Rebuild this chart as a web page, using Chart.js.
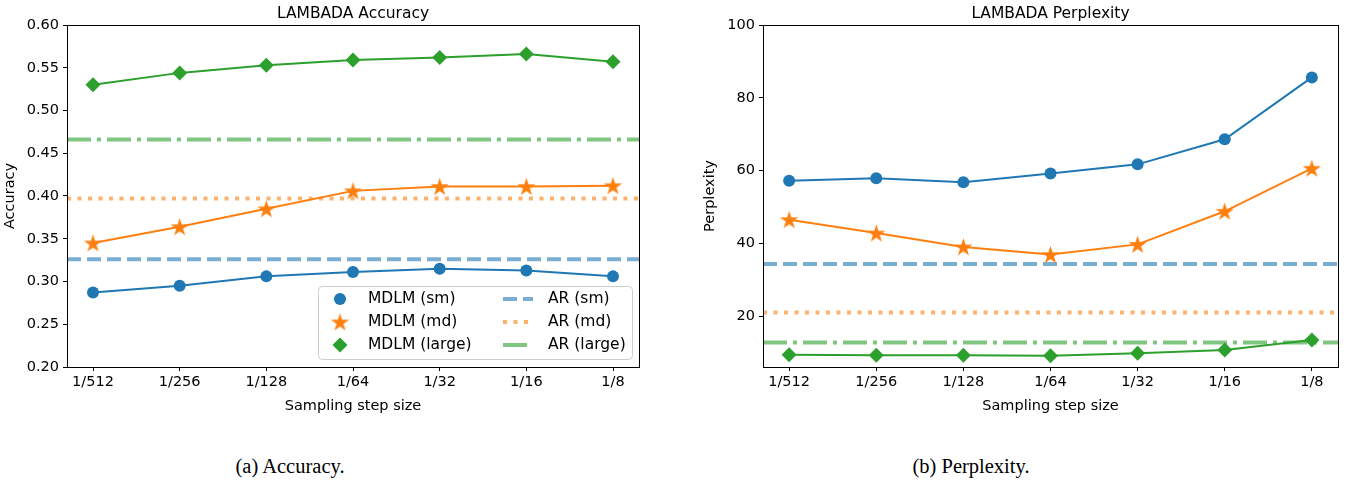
<!DOCTYPE html>
<html>
<head>
<meta charset="utf-8">
<script src="https://cdn.jsdelivr.net/npm/chart.js@4.4.0/dist/chart.umd.min.js"></script>
<style>
  body { margin: 0; background: #fff; width: 1346px; height: 486px; position: relative; overflow: hidden; }
  .box { position: absolute; top: 0; height: 430px; }
  .caption { position: absolute; top: 455px; width: 240px; text-align: center;
    font-family: "Liberation Serif", "DejaVu Serif", serif; font-size: 20.5px; color: #000; }
</style>
</head>
<body>
<div class="box" style="left:0;width:680px"><canvas id="acc"></canvas></div>
<div class="box" style="left:680px;width:666px"><canvas id="ppl"></canvas></div>
<div class="caption" style="left:170px">(a) Accuracy.</div>
<div class="caption" style="left:851px">(b) Perplexity.</div>
<script>
// data
let stepLabels = ["1/512", "1/256", "1/128", "1/64", "1/32", "1/16", "1/8"];
let accSm = [0.287, 0.295, 0.306, 0.311, 0.315, 0.313, 0.306];
let accMd = [0.345, 0.364, 0.385, 0.406, 0.411, 0.411, 0.412];
let accLarge = [0.530, 0.544, 0.553, 0.559, 0.562, 0.566, 0.557];
let arAcc = [0.326, 0.397, 0.466]; // sm, md, large
let pplSm = [57.2, 57.9, 56.8, 59.2, 61.7, 68.6, 85.6];
let pplMd = [46.5, 42.8, 39.0, 36.9, 39.7, 48.8, 60.6];
let pplLarge = [9.4, 9.2, 9.2, 9.1, 9.8, 10.7, 13.4];
let arPpl = [34.3, 21.0, 12.7];
let accTicks = [0.20, 0.25, 0.30, 0.35, 0.40, 0.45, 0.50, 0.55, 0.60];
let pplTicks = [20, 40, 60, 80, 100];
let xMin = -0.3, xMax = 6.3;

let blue = "#1f77b4", orange = "#ff7f0e", green = "#2ca02c";
let blueA = "rgba(31,119,180,0.6)", orangeA = "rgba(255,127,14,0.6)", greenA = "rgba(44,160,44,0.6)";

Chart.defaults.font.family = "'DejaVu Sans', sans-serif";
Chart.defaults.font.size = 14.5;
Chart.defaults.color = "#000";

// filled 5 point star marker
function makeStar(r, color) {
  let c = document.createElement("canvas");
  c.width = r * 2 + 2;
  c.height = r * 2 + 2;
  let ctx = c.getContext("2d");
  ctx.fillStyle = color;
  ctx.beginPath();
  for (let i = 0; i < 10; i++) {
    let rad = i % 2 === 0 ? r : r * 0.382;
    let a = -Math.PI / 2 + i * Math.PI / 5;
    let px = c.width / 2 + rad * Math.cos(a);
    let py = c.height / 2 + rad * Math.sin(a) + 0.8;
    if (i === 0) ctx.moveTo(px, py); else ctx.lineTo(px, py);
  }
  ctx.closePath();
  ctx.fill();
  return c;
}
let starImg = makeStar(9.5, orange);

function series(label, values, color, style, radius) {
  return {
    label: label,
    data: values.map((v, i) => ({ x: i, y: v })),
    borderColor: color,
    backgroundColor: color,
    borderWidth: 2,
    pointStyle: style,
    pointRadius: radius,
    pointHoverRadius: radius,
    pointBorderWidth: 0,
    tension: 0,
    order: 1
  };
}

function hline(label, value, color, dash) {
  return {
    label: label,
    data: [{ x: xMin, y: value }, { x: xMax, y: value }],
    borderColor: color,
    backgroundColor: color,
    borderWidth: 4,
    borderDash: dash,
    borderCapStyle: "butt",
    pointRadius: 0,
    order: 2
  };
}

let dashed = [14, 6], dotted = [4, 6.5], dashDot = [24, 6, 4, 6];

// title + full frame, like matplotlib axes
let framePlugin = {
  id: "frame",
  afterDraw(chart) {
    let a = chart.chartArea, ctx = chart.ctx;
    ctx.save();
    ctx.strokeStyle = "#000";
    ctx.lineWidth = 1;
    ctx.strokeRect(Math.round(a.left) + 0.5, Math.round(a.top) + 0.5, Math.round(a.right - a.left), Math.round(a.bottom - a.top));
    ctx.fillStyle = "#000";
    ctx.font = "15.5px 'DejaVu Sans'";
    ctx.textAlign = "center";
    ctx.fillText(chart.options.plugins.frame.text, (a.left + a.right) / 2, a.top - 7);
    ctx.restore();
  }
};

function drawMarker(ctx, ds, x, y) {
  if (ds.pointStyle instanceof HTMLCanvasElement) {
    ctx.drawImage(ds.pointStyle, x - ds.pointStyle.width / 2, y - ds.pointStyle.height / 2);
    return;
  }
  ctx.fillStyle = ds.backgroundColor;
  ctx.beginPath();
  if (ds.pointStyle === "rectRot") {
    let r = ds.pointRadius;
    ctx.moveTo(x, y - r); ctx.lineTo(x + r, y); ctx.lineTo(x, y + r); ctx.lineTo(x - r, y);
  } else {
    ctx.arc(x, y, ds.pointRadius, 0, Math.PI * 2);
  }
  ctx.closePath();
  ctx.fill();
}

// two column legend in the lower right corner
let legendPlugin = {
  id: "boxLegend",
  afterDraw(chart) {
    if (!chart.options.plugins.boxLegend.show) return;
    let a = chart.chartArea, ctx = chart.ctx;
    let w = 314, h = 73;
    let left = a.right - 7 - w, top = a.bottom - 8 - h;
    ctx.save();
    ctx.fillStyle = "rgba(255,255,255,0.8)";
    ctx.strokeStyle = "#cccccc";
    ctx.lineWidth = 1;
    ctx.beginPath();
    ctx.roundRect(left + 0.5, top + 0.5, w, h, 4);
    ctx.fill();
    ctx.stroke();
    ctx.font = "15.5px 'DejaVu Sans'";
    ctx.textBaseline = "middle";
    ctx.textAlign = "left";
    let ds = chart.data.datasets;
    for (let i = 0; i < 6; i++) {
      let col = Math.floor(i / 3), row = i % 3;
      let cy = top + 13 + row * 23;
      let d = ds[i];
      if (col === 0) {
        drawMarker(ctx, d, left + 22, cy);
        ctx.fillStyle = "#000";
        ctx.fillText(d.label, left + 50, cy);
      } else {
        ctx.strokeStyle = d.borderColor;
        ctx.lineWidth = 4;
        ctx.setLineDash(d.borderDash);
        ctx.beginPath();
        ctx.moveTo(left + 185, cy);
        ctx.lineTo(left + 215, cy);
        ctx.stroke();
        ctx.setLineDash([]);
        ctx.fillStyle = "#000";
        ctx.fillText(d.label, left + 230, cy);
      }
    }
    ctx.restore();
  }
};

function makeChart(id, title, yTitle, sm, md, large, ar, yMin, yMax, yTicks, digits, pad, showLegend) {
  let ctx = document.getElementById(id).getContext("2d");
  return new Chart(ctx, {
    type: "line",
    data: {
      datasets: [
        series("MDLM (sm)", sm, blue, "circle", 6),
        series("MDLM (md)", md, orange, starImg, 8),
        series("MDLM (large)", large, green, "rectRot", 7.5),
        hline("AR (sm)", ar[0], blueA, dashed),
        hline("AR (md)", ar[1], orangeA, dotted),
        hline("AR (large)", ar[2], greenA, dashDot)
      ]
    },
    options: {
      responsive: false,
      animation: false,
      layout: { padding: { top: 25, left: pad.left, right: pad.right, bottom: 11 } },
      plugins: {
        legend: { display: false },
        tooltip: { enabled: false },
        frame: { text: title },
        boxLegend: { show: showLegend }
      },
      scales: {
        x: {
          type: "linear",
          min: xMin,
          max: xMax,
          afterBuildTicks: (s) => { s.ticks = stepLabels.map((l, i) => ({ value: i })); },
          afterFit: (s) => { s.height = 52; },
          ticks: { callback: (v) => stepLabels[v], padding: 3, maxRotation: 0 },
          grid: { drawOnChartArea: false, drawTicks: true, tickLength: 4, color: "#000" },
          border: { display: false },
          title: { display: true, text: "Sampling step size", padding: { top: 1, bottom: 4 } }
        },
        y: {
          type: "linear",
          min: yMin,
          max: yMax,
          afterBuildTicks: (s) => { s.ticks = yTicks.map((v) => ({ value: v })); },
          afterFit: (s) => { s.width = pad.yWidth; },
          ticks: { callback: (v) => v.toFixed(digits), padding: 4 },
          grid: { drawOnChartArea: false, drawTicks: true, tickLength: 4, color: "#000" },
          border: { display: false },
          title: { display: true, text: yTitle, padding: { top: 0, bottom: 0 } }
        }
      }
    },
    plugins: [framePlugin, legendPlugin]
  });
}

let accCanvas = document.getElementById("acc");
accCanvas.width = 680; accCanvas.height = 430;
let pplCanvas = document.getElementById("ppl");
pplCanvas.width = 666; pplCanvas.height = 430;

makeChart("acc", "LAMBADA Accuracy", "Accuracy", accSm, accMd, accLarge, arAcc, 0.2, 0.6, accTicks, 2,
  { left: 2, right: 41, yWidth: 65 }, true);
makeChart("ppl", "LAMBADA Perplexity", "Perplexity", pplSm, pplMd, pplLarge, arPpl, 6, 100, pplTicks, 0,
  { left: 22, right: 6, yWidth: 61 }, false);
</script>
</body>
</html>
